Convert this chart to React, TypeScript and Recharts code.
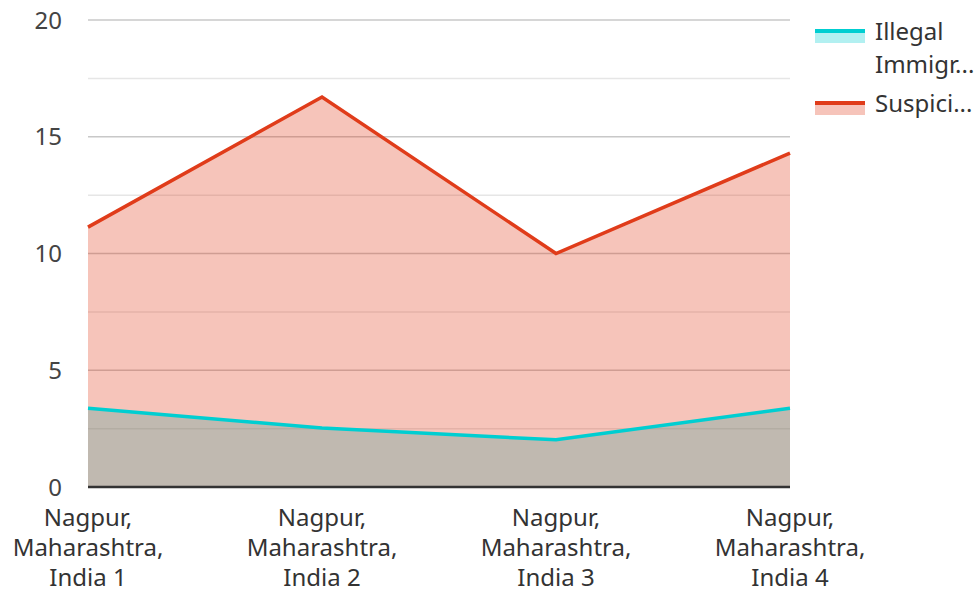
import React from 'react';
import { ComposedChart, Area, Line, XAxis, YAxis, CartesianGrid, Legend } from 'recharts';

const categories = ['Nagpur, Maharashtra, India 1', 'Nagpur, Maharashtra, India 2', 'Nagpur, Maharashtra, India 3', 'Nagpur, Maharashtra, India 4'];
const illegalValues = [3.37, 2.53, 2.02, 3.37];
const suspiciousValues = [11.13, 16.7, 10.0, 14.3];
const yTicks = [0, 2.5, 5, 7.5, 10, 12.5, 15, 17.5, 20];
const seriesNames = ['Illegal Immigr...', 'Suspici...'];

const TEAL = '#00CED1';
const RED = '#E03C1A';
const FONT = '"Noto Sans", "Open Sans", sans-serif';

const data = categories.map((c, i) => ({ name: c, illegal: illegalValues[i], suspicious: suspiciousValues[i] }));

const XTick = (props: any) => {
  const { x, y, payload } = props;
  const parts = String(payload.value).split(' ');
  const lines = [parts[0], parts[1], parts.slice(2).join(' ')];
  return (
    <g>
      {lines.map((l, i) => (
        <text key={i} x={x} y={y + 30.5 + i * 30} textAnchor="middle" fill="#333" fontSize={24} fontFamily={FONT}>{l}</text>
      ))}
    </g>
  );
};

const gridLine = (props: any) => {
  const { x1, x2, y1, y2, index } = props;
  const major = index % 2 === 0;
  return <line key={`g${index}`} x1={x1} x2={x2} y1={y1} y2={y2} stroke={major ? '#c8c8c8' : '#e6e6e6'} strokeWidth={1.5} />;
};

const LegendContent = () => {
  const items = [
    { color: TEAL, lines: ['Illegal', 'Immigr...'], top: 0 },
    { color: RED, lines: ['Suspici...'], top: 72 },
  ];
  return (
    <div style={{ position: 'relative', width: 172, height: 120, fontFamily: FONT, fontSize: 24, color: '#333' }}>
      {items.map((it, i) => (
        <div key={i}>
          <div style={{ position: 'absolute', left: 10, top: it.top + 16, width: 50, height: 13, background: it.color, opacity: 0.3 }} />
          <div style={{ position: 'absolute', left: 10, top: it.top + 15, width: 50, height: 3.5, background: it.color }} />
          <div style={{ position: 'absolute', left: 70, top: it.top, lineHeight: '33px', whiteSpace: 'nowrap' }}>
            {it.lines.map((l, j) => <div key={j}>{l}</div>)}
          </div>
        </div>
      ))}
    </div>
  );
};

export default function App() {
  return (
    <div style={{ width: 977, height: 591 }}>
      <style>{`body{margin:0}`}</style>
      <ComposedChart width={977} height={591} data={data} margin={{ top: 20, right: 187, bottom: 0, left: 0 }}>
        <CartesianGrid vertical={false} horizontal={gridLine} />
        <XAxis dataKey="name" tick={<XTick />} tickLine={false} axisLine={{ stroke: '#333', strokeWidth: 2.5 }} interval={0} height={104} />
        <YAxis domain={[0, 20]} ticks={yTicks} width={88} axisLine={false} tickLine={false} tickMargin={20}
          tickFormatter={(v: number) => (v % 5 === 0 ? String(v) : '')}
          tick={{ fill: '#444', fontSize: 24, fontFamily: FONT }} />
        <Area dataKey="illegal" name={seriesNames[0]} type="linear" stroke="none" fill={TEAL} fillOpacity={0.3} isAnimationActive={false} legendType="none" />
        <Area dataKey="suspicious" name={seriesNames[1]} type="linear" stroke="none" fill={RED} fillOpacity={0.3} isAnimationActive={false} legendType="none" />
        <Line dataKey="suspicious" type="linear" stroke={RED} strokeWidth={3.5} dot={false} activeDot={false} isAnimationActive={false} />
        <Line dataKey="illegal" type="linear" stroke={TEAL} strokeWidth={3.5} dot={false} activeDot={false} isAnimationActive={false} />
        <Legend layout="vertical" align="center" verticalAlign="middle" content={<LegendContent />}
          wrapperStyle={{ left: 805, top: 14, width: 172, height: 120 }} />
      </ComposedChart>
    </div>
  );
}
